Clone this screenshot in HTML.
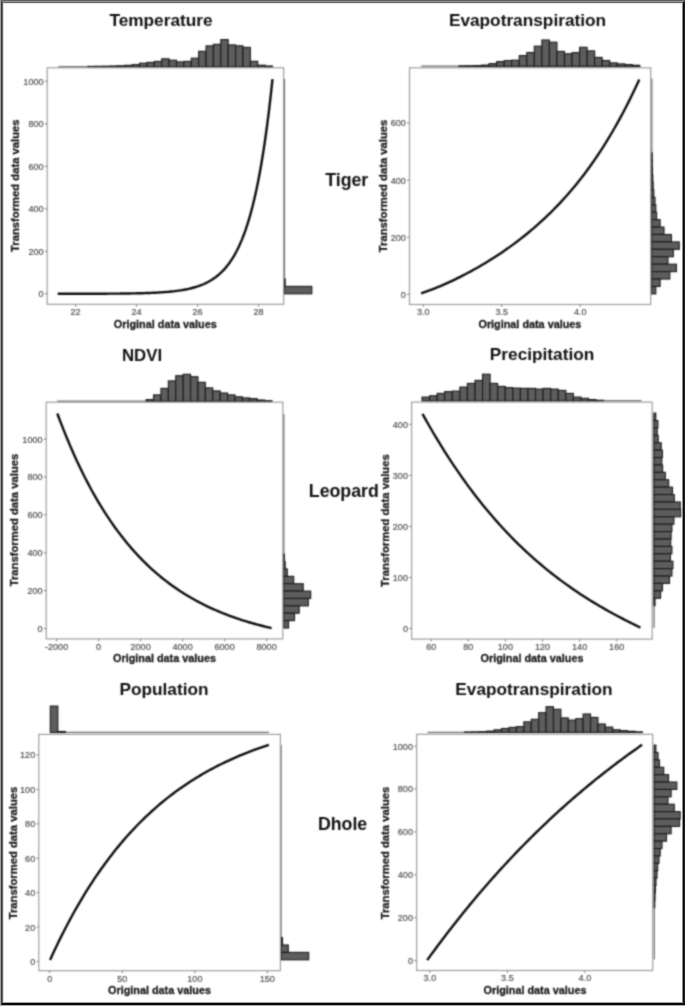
<!DOCTYPE html>
<html lang="en">
<head>
<meta charset="utf-8">
<title>Transformed data values</title>
<style>
html,body{margin:0;padding:0;background:#fff;}
body{width:685px;height:1006px;overflow:hidden;}
svg{display:block;font-family:"Liberation Sans", sans-serif;}
.bars rect{fill:#5d5d5d;stroke:#1c1c1c;stroke-width:1.1;}
.zl{fill:none;stroke:#707070;stroke-width:1.2;}
.panel{fill:#fff;stroke:#9e9e9e;stroke-width:1.2;}
.curve{fill:none;stroke:#0c0c0c;stroke-width:2.4;stroke-linecap:butt;stroke-linejoin:round;}
.tick{fill:none;stroke:#808080;stroke-width:1;}
.tl{font-size:9.1px;fill:#4a4a4a;stroke:#4a4a4a;stroke-width:0.15;}
.title{font-size:17.25px;font-weight:bold;fill:#101010;}
.sp{font-size:17.75px;}
.al{font-size:10.85px;font-weight:bold;fill:#141414;stroke:#141414;stroke-width:0.25;}
.yl{font-size:11.25px;}
</style>
</head>
<body>
<svg width="685" height="1006" viewBox="0 0 685 1006">
<defs><filter id="soft" x="0" y="0" width="100%" height="100%" filterUnits="objectBoundingBox" color-interpolation-filters="sRGB"><feConvolveMatrix order="5" kernelMatrix="0.00009 0.00198 0.00548 0.00198 0.00009 0.00198 0.04220 0.11707 0.04220 0.00198 0.00548 0.11707 0.32480 0.11707 0.00548 0.00198 0.04220 0.11707 0.04220 0.00198 0.00009 0.00198 0.00548 0.00198 0.00009" edgeMode="duplicate" preserveAlpha="true"/></filter></defs>
<g filter="url(#soft)">
<rect x="-20" y="-20" width="725" height="1046" fill="#ffffff"/>
<g class="bars">
<path class="zl" d="M58.3,66.7H272.5"/>
<rect x="87.84" y="66.4" width="7.39" height="0.4"/>
<rect x="95.23" y="66.3" width="7.39" height="0.5"/>
<rect x="102.62" y="66.2" width="7.39" height="0.6"/>
<rect x="110" y="66" width="7.39" height="0.8"/>
<rect x="117.39" y="65.8" width="7.39" height="1"/>
<rect x="124.78" y="65.3" width="7.39" height="1.5"/>
<rect x="132.16" y="64.6" width="7.39" height="2.2"/>
<rect x="139.55" y="63.2" width="7.39" height="3.6"/>
<rect x="146.93" y="62.4" width="7.39" height="4.4"/>
<rect x="154.32" y="61.4" width="7.39" height="5.4"/>
<rect x="161.71" y="58.8" width="7.39" height="8"/>
<rect x="169.09" y="60.2" width="7.39" height="6.6"/>
<rect x="176.48" y="61.9" width="7.39" height="4.9"/>
<rect x="183.87" y="61.4" width="7.39" height="5.4"/>
<rect x="191.25" y="58.2" width="7.39" height="8.6"/>
<rect x="198.64" y="51.3" width="7.39" height="15.5"/>
<rect x="206.02" y="45.9" width="7.39" height="20.9"/>
<rect x="213.41" y="44.3" width="7.39" height="22.5"/>
<rect x="220.8" y="39.6" width="7.39" height="27.2"/>
<rect x="228.18" y="44.9" width="7.39" height="21.9"/>
<rect x="235.57" y="45.8" width="7.39" height="21"/>
<rect x="242.96" y="47.4" width="7.39" height="19.4"/>
<rect x="250.34" y="61.3" width="7.39" height="5.5"/>
<rect x="257.73" y="65.2" width="7.39" height="1.6"/>
<rect x="265.11" y="66" width="7.39" height="0.8"/>
<path class="zl" d="M284.5,78.8V293.8"/>
<rect x="284.4" y="278.97" width="0.8" height="7.41"/>
<rect x="284.4" y="286.39" width="27.4" height="7.41"/>
</g>
<rect class="panel" x="47.2" y="67.8" width="236.4" height="236.5"/>
<path class="curve" d="M57.7,293.79 L59.51,293.79 L61.31,293.78 L63.12,293.78 L64.92,293.78 L66.73,293.78 L68.53,293.78 L70.34,293.78 L72.14,293.77 L73.95,293.77 L75.75,293.77 L77.56,293.77 L79.36,293.76 L81.17,293.76 L82.97,293.76 L84.78,293.75 L86.58,293.75 L88.39,293.75 L90.19,293.74 L92,293.74 L93.8,293.73 L95.61,293.73 L97.41,293.72 L99.22,293.71 L101.02,293.7 L102.83,293.7 L104.63,293.69 L106.44,293.68 L108.24,293.67 L110.05,293.66 L111.85,293.64 L113.66,293.63 L115.46,293.62 L117.27,293.6 L119.07,293.58 L120.88,293.57 L122.68,293.55 L124.49,293.53 L126.29,293.5 L128.1,293.48 L129.9,293.45 L131.71,293.42 L133.51,293.39 L135.32,293.35 L137.12,293.31 L138.93,293.27 L140.73,293.23 L142.54,293.18 L144.34,293.13 L146.15,293.07 L147.95,293.01 L149.76,292.94 L151.56,292.87 L153.37,292.79 L155.17,292.71 L156.98,292.61 L158.78,292.51 L160.59,292.41 L162.39,292.29 L164.2,292.16 L166,292.02 L167.81,291.87 L169.61,291.71 L171.42,291.53 L173.22,291.34 L175.03,291.13 L176.83,290.9 L178.64,290.66 L180.44,290.39 L182.25,290.1 L184.05,289.79 L185.86,289.45 L187.66,289.08 L189.47,288.68 L191.27,288.25 L193.08,287.78 L194.88,287.27 L196.69,286.72 L198.49,286.12 L200.3,285.47 L202.1,284.77 L203.91,284 L205.71,283.17 L207.52,282.27 L209.32,281.3 L211.13,280.24 L212.93,279.09 L214.74,277.85 L216.54,276.5 L218.35,275.04 L220.15,273.45 L221.96,271.73 L223.76,269.86 L225.57,267.83 L227.37,265.63 L229.18,263.25 L230.98,260.67 L232.79,257.86 L234.59,254.82 L236.4,251.52 L238.2,247.95 L240.01,244.07 L241.81,239.86 L243.62,235.29 L245.42,230.34 L247.23,224.97 L249.03,219.15 L250.84,212.83 L252.64,205.98 L254.45,198.55 L256.25,190.49 L258.06,181.75 L259.86,172.27 L261.67,161.98 L263.47,150.83 L265.28,138.73 L267.08,125.61 L268.89,111.38 L270.69,95.94 L272.5,79.2"/>
<text class="tl" text-anchor="end" transform="translate(43.6,297.25) scale(1,1.05)">0</text>
<text class="tl" text-anchor="end" transform="translate(43.6,254.75) scale(1,1.05)">200</text>
<text class="tl" text-anchor="end" transform="translate(43.6,212.25) scale(1,1.05)">400</text>
<text class="tl" text-anchor="end" transform="translate(43.6,169.75) scale(1,1.05)">600</text>
<text class="tl" text-anchor="end" transform="translate(43.6,127.25) scale(1,1.05)">800</text>
<text class="tl" text-anchor="end" transform="translate(43.6,84.75) scale(1,1.05)">1000</text>
<text class="tl" text-anchor="middle" transform="translate(75.6,315.2) scale(1,1.05)">22</text>
<text class="tl" text-anchor="middle" transform="translate(136.6,315.2) scale(1,1.05)">24</text>
<text class="tl" text-anchor="middle" transform="translate(197.6,315.2) scale(1,1.05)">26</text>
<text class="tl" text-anchor="middle" transform="translate(258.6,315.2) scale(1,1.05)">28</text>
<path class="tick" d="M44.8,293.8H47.2M44.8,251.3H47.2M44.8,208.8H47.2M44.8,166.3H47.2M44.8,123.8H47.2M44.8,81.3H47.2M75.6,304.3V306.7M136.6,304.3V306.7M197.6,304.3V306.7M258.6,304.3V306.7"/>
<text class="title" style="font-size:17.25px" text-anchor="middle" x="161" y="25.8">Temperature</text>
<text class="al" text-anchor="middle" transform="translate(165.3,328) scale(1,1.04)">Original data values</text>
<text class="al yl" text-anchor="middle" transform="translate(18.6,185.7) rotate(-90)">Transformed data values</text>
<g class="bars">
<path class="zl" d="M421.2,66.2H639.9"/>
<rect x="458.91" y="65.9" width="7.54" height="0.4"/>
<rect x="466.45" y="65.8" width="7.54" height="0.5"/>
<rect x="473.99" y="65.6" width="7.54" height="0.7"/>
<rect x="481.53" y="65.1" width="7.54" height="1.2"/>
<rect x="489.07" y="63.6" width="7.54" height="2.7"/>
<rect x="496.61" y="61.6" width="7.54" height="4.7"/>
<rect x="504.16" y="60.6" width="7.54" height="5.7"/>
<rect x="511.7" y="60.2" width="7.54" height="6.1"/>
<rect x="519.24" y="55.6" width="7.54" height="10.7"/>
<rect x="526.78" y="52.5" width="7.54" height="13.8"/>
<rect x="534.32" y="46.2" width="7.54" height="20.1"/>
<rect x="541.86" y="40" width="7.54" height="26.3"/>
<rect x="549.4" y="42.2" width="7.54" height="24.1"/>
<rect x="556.94" y="51.4" width="7.54" height="14.9"/>
<rect x="564.49" y="53.8" width="7.54" height="12.5"/>
<rect x="572.03" y="52.6" width="7.54" height="13.7"/>
<rect x="579.57" y="47.3" width="7.54" height="19"/>
<rect x="587.11" y="50.9" width="7.54" height="15.4"/>
<rect x="594.65" y="57.4" width="7.54" height="8.9"/>
<rect x="602.19" y="60.5" width="7.54" height="5.8"/>
<rect x="609.73" y="62.9" width="7.54" height="3.4"/>
<rect x="617.28" y="63.9" width="7.54" height="2.4"/>
<rect x="624.82" y="64.6" width="7.54" height="1.7"/>
<rect x="632.36" y="65.3" width="7.54" height="1"/>
<path class="zl" d="M651.9,78.5V293.9"/>
<rect x="651.8" y="152.78" width="0.4" height="7.43"/>
<rect x="651.8" y="160.2" width="0.5" height="7.43"/>
<rect x="651.8" y="167.63" width="0.7" height="7.43"/>
<rect x="651.8" y="175.06" width="1" height="7.43"/>
<rect x="651.8" y="182.49" width="1.4" height="7.43"/>
<rect x="651.8" y="189.91" width="2" height="7.43"/>
<rect x="651.8" y="197.34" width="3.2" height="7.43"/>
<rect x="651.8" y="204.77" width="4" height="7.43"/>
<rect x="651.8" y="212.2" width="4.8" height="7.43"/>
<rect x="651.8" y="219.62" width="8.3" height="7.43"/>
<rect x="651.8" y="227.05" width="12.2" height="7.43"/>
<rect x="651.8" y="234.48" width="19.6" height="7.43"/>
<rect x="651.8" y="241.91" width="27.5" height="7.43"/>
<rect x="651.8" y="249.33" width="21.5" height="7.43"/>
<rect x="651.8" y="256.76" width="16.2" height="7.43"/>
<rect x="651.8" y="264.19" width="24.6" height="7.43"/>
<rect x="651.8" y="271.62" width="18" height="7.43"/>
<rect x="651.8" y="279.04" width="8.3" height="7.43"/>
<rect x="651.8" y="286.47" width="4" height="7.43"/>
</g>
<rect class="panel" x="409.5" y="67.8" width="241.2" height="236.7"/>
<path class="curve" d="M421.1,293.43 L423.86,292.47 L426.62,291.48 L429.39,290.45 L432.15,289.39 L434.91,288.3 L437.67,287.17 L440.43,286.02 L443.2,284.83 L445.96,283.62 L448.72,282.37 L451.48,281.09 L454.24,279.79 L457.01,278.45 L459.77,277.09 L462.53,275.69 L465.29,274.27 L468.05,272.81 L470.82,271.33 L473.58,269.81 L476.34,268.27 L479.1,266.69 L481.86,265.08 L484.63,263.44 L487.39,261.77 L490.15,260.06 L492.91,258.33 L495.67,256.55 L498.44,254.74 L501.2,252.9 L503.96,251.02 L506.72,249.1 L509.48,247.14 L512.25,245.15 L515.01,243.11 L517.77,241.03 L520.53,238.91 L523.29,236.74 L526.06,234.53 L528.82,232.26 L531.58,229.95 L534.34,227.59 L537.11,225.18 L539.87,222.72 L542.63,220.19 L545.39,217.62 L548.15,214.98 L550.92,212.28 L553.68,209.52 L556.44,206.7 L559.2,203.8 L561.96,200.84 L564.73,197.81 L567.49,194.7 L570.25,191.52 L573.01,188.26 L575.77,184.93 L578.54,181.5 L581.3,178 L584.06,174.4 L586.82,170.71 L589.58,166.93 L592.35,163.06 L595.11,159.08 L597.87,155.01 L600.63,150.83 L603.39,146.54 L606.16,142.14 L608.92,137.63 L611.68,133 L614.44,128.25 L617.2,123.37 L619.97,118.37 L622.73,113.24 L625.49,107.98 L628.25,102.58 L631.01,97.03 L633.78,91.34 L636.54,85.51 L639.3,79.52"/>
<text class="tl" text-anchor="end" transform="translate(405.9,297.75) scale(1,1.05)">0</text>
<text class="tl" text-anchor="end" transform="translate(405.9,240.65) scale(1,1.05)">200</text>
<text class="tl" text-anchor="end" transform="translate(405.9,183.55) scale(1,1.05)">400</text>
<text class="tl" text-anchor="end" transform="translate(405.9,126.45) scale(1,1.05)">600</text>
<text class="tl" text-anchor="middle" transform="translate(423.2,315.4) scale(1,1.05)">3.0</text>
<text class="tl" text-anchor="middle" transform="translate(501.7,315.4) scale(1,1.05)">3.5</text>
<text class="tl" text-anchor="middle" transform="translate(580.2,315.4) scale(1,1.05)">4.0</text>
<path class="tick" d="M407.1,294.3H409.5M407.1,237.2H409.5M407.1,180.1H409.5M407.1,123H409.5M423.2,304.5V306.9M501.7,304.5V306.9M580.2,304.5V306.9"/>
<text class="title" style="font-size:17.25px" text-anchor="middle" x="527.5" y="25.8">Evapotranspiration</text>
<text class="al" text-anchor="middle" transform="translate(529.9,327.8) scale(1,1.04)">Original data values</text>
<text class="al yl" text-anchor="middle" transform="translate(387,185.9) rotate(-90)">Transformed data values</text>
<g class="bars">
<path class="zl" d="M57.3,401.1H272"/>
<rect x="146.14" y="399.6" width="7.4" height="1.6"/>
<rect x="153.54" y="394.9" width="7.4" height="6.3"/>
<rect x="160.95" y="388.4" width="7.4" height="12.8"/>
<rect x="168.35" y="380.9" width="7.4" height="20.3"/>
<rect x="175.76" y="375.7" width="7.4" height="25.5"/>
<rect x="183.16" y="374.3" width="7.4" height="26.9"/>
<rect x="190.56" y="376.7" width="7.4" height="24.5"/>
<rect x="197.97" y="382.3" width="7.4" height="18.9"/>
<rect x="205.37" y="387.9" width="7.4" height="13.3"/>
<rect x="212.77" y="390.9" width="7.4" height="10.3"/>
<rect x="220.18" y="393" width="7.4" height="8.2"/>
<rect x="227.58" y="394.9" width="7.4" height="6.3"/>
<rect x="234.98" y="396.8" width="7.4" height="4.4"/>
<rect x="242.39" y="397.9" width="7.4" height="3.3"/>
<rect x="249.79" y="398.6" width="7.4" height="2.6"/>
<rect x="257.19" y="400" width="7.4" height="1.2"/>
<rect x="264.6" y="400.7" width="7.4" height="0.5"/>
<path class="zl" d="M283.9,414V628"/>
<rect x="283.8" y="554.21" width="0.6" height="7.38"/>
<rect x="283.8" y="561.59" width="1.4" height="7.38"/>
<rect x="283.8" y="568.97" width="3.5" height="7.38"/>
<rect x="283.8" y="576.34" width="9.9" height="7.38"/>
<rect x="283.8" y="583.72" width="19.4" height="7.38"/>
<rect x="283.8" y="591.1" width="26.9" height="7.38"/>
<rect x="283.8" y="598.48" width="24.5" height="7.38"/>
<rect x="283.8" y="605.86" width="15.4" height="7.38"/>
<rect x="283.8" y="613.24" width="10.7" height="7.38"/>
<rect x="283.8" y="620.62" width="4.8" height="7.38"/>
</g>
<rect class="panel" x="46.2" y="402.2" width="236.6" height="236.7"/>
<path class="curve" d="M57.3,413.5 L59.46,419.28 L61.63,424.92 L63.79,430.42 L65.96,435.78 L68.12,441.02 L70.29,446.12 L72.45,451.1 L74.62,455.95 L76.78,460.68 L78.95,465.3 L81.11,469.81 L83.28,474.2 L85.44,478.48 L87.61,482.66 L89.77,486.74 L91.93,490.71 L94.1,494.59 L96.26,498.37 L98.43,502.06 L100.59,505.65 L102.76,509.16 L104.92,512.58 L107.09,515.92 L109.25,519.18 L111.42,522.35 L113.58,525.45 L115.75,528.47 L117.91,531.41 L120.07,534.29 L122.24,537.09 L124.4,539.82 L126.57,542.49 L128.73,545.09 L130.9,547.62 L133.06,550.09 L135.23,552.51 L137.39,554.86 L139.56,557.15 L141.72,559.39 L143.89,561.57 L146.05,563.7 L148.22,565.78 L150.38,567.8 L152.54,569.78 L154.71,571.71 L156.87,573.58 L159.04,575.42 L161.2,577.2 L163.37,578.95 L165.53,580.65 L167.7,582.31 L169.86,583.92 L172.03,585.5 L174.19,587.04 L176.36,588.54 L178.52,590 L180.68,591.43 L182.85,592.82 L185.01,594.18 L187.18,595.51 L189.34,596.8 L191.51,598.06 L193.67,599.29 L195.84,600.48 L198,601.65 L200.17,602.79 L202.33,603.91 L204.5,604.99 L206.66,606.05 L208.83,607.08 L210.99,608.09 L213.15,609.07 L215.32,610.02 L217.48,610.96 L219.65,611.87 L221.81,612.76 L223.98,613.62 L226.14,614.47 L228.31,615.29 L230.47,616.1 L232.64,616.88 L234.8,617.64 L236.97,618.39 L239.13,619.12 L241.29,619.83 L243.46,620.52 L245.62,621.19 L247.79,621.85 L249.95,622.49 L252.12,623.12 L254.28,623.73 L256.45,624.32 L258.61,624.91 L260.78,625.47 L262.94,626.02 L265.11,626.56 L267.27,627.09 L269.44,627.6 L271.6,628.1"/>
<text class="tl" text-anchor="end" transform="translate(42.6,632.05) scale(1,1.05)">0</text>
<text class="tl" text-anchor="end" transform="translate(42.6,594.15) scale(1,1.05)">200</text>
<text class="tl" text-anchor="end" transform="translate(42.6,556.25) scale(1,1.05)">400</text>
<text class="tl" text-anchor="end" transform="translate(42.6,518.35) scale(1,1.05)">600</text>
<text class="tl" text-anchor="end" transform="translate(42.6,480.45) scale(1,1.05)">800</text>
<text class="tl" text-anchor="end" transform="translate(42.6,442.55) scale(1,1.05)">1000</text>
<text class="tl" text-anchor="middle" transform="translate(56.6,649.8) scale(1,1.05)">-2000</text>
<text class="tl" text-anchor="middle" transform="translate(98.6,649.8) scale(1,1.05)">0</text>
<text class="tl" text-anchor="middle" transform="translate(140.6,649.8) scale(1,1.05)">2000</text>
<text class="tl" text-anchor="middle" transform="translate(182.6,649.8) scale(1,1.05)">4000</text>
<text class="tl" text-anchor="middle" transform="translate(224.6,649.8) scale(1,1.05)">6000</text>
<text class="tl" text-anchor="middle" transform="translate(266.6,649.8) scale(1,1.05)">8000</text>
<path class="tick" d="M43.8,628.6H46.2M43.8,590.7H46.2M43.8,552.8H46.2M43.8,514.9H46.2M43.8,477H46.2M43.8,439.1H46.2M56.6,638.9V641.3M98.6,638.9V641.3M140.6,638.9V641.3M182.6,638.9V641.3M224.6,638.9V641.3M266.6,638.9V641.3"/>
<text class="title" style="font-size:16.8px" text-anchor="middle" x="142" y="360.6">NDVI</text>
<text class="al" text-anchor="middle" transform="translate(164.5,662) scale(1,1.04)">Original data values</text>
<text class="al yl" text-anchor="middle" transform="translate(18.2,520) rotate(-90)">Transformed data values</text>
<g class="bars">
<path class="zl" d="M422,400.7H641.5"/>
<rect x="422" y="397.1" width="7.57" height="3.7"/>
<rect x="429.57" y="395.8" width="7.57" height="5"/>
<rect x="437.14" y="393.4" width="7.57" height="7.4"/>
<rect x="444.71" y="391.6" width="7.57" height="9.2"/>
<rect x="452.28" y="391.1" width="7.57" height="9.7"/>
<rect x="459.84" y="387.1" width="7.57" height="13.7"/>
<rect x="467.41" y="383.4" width="7.57" height="17.4"/>
<rect x="474.98" y="380.4" width="7.57" height="20.4"/>
<rect x="482.55" y="374.2" width="7.57" height="26.6"/>
<rect x="490.12" y="383.4" width="7.57" height="17.4"/>
<rect x="497.69" y="386.4" width="7.57" height="14.4"/>
<rect x="505.26" y="387.6" width="7.57" height="13.2"/>
<rect x="512.83" y="388.1" width="7.57" height="12.7"/>
<rect x="520.4" y="388.4" width="7.57" height="12.4"/>
<rect x="527.97" y="388.4" width="7.57" height="12.4"/>
<rect x="535.53" y="389.1" width="7.57" height="11.7"/>
<rect x="543.1" y="388.4" width="7.57" height="12.4"/>
<rect x="550.67" y="389.1" width="7.57" height="11.7"/>
<rect x="558.24" y="390.4" width="7.57" height="10.4"/>
<rect x="565.81" y="393.4" width="7.57" height="7.4"/>
<rect x="573.38" y="397.1" width="7.57" height="3.7"/>
<rect x="580.95" y="398.3" width="7.57" height="2.5"/>
<rect x="588.52" y="399.6" width="7.57" height="1.2"/>
<rect x="596.09" y="400.3" width="7.57" height="0.5"/>
<path class="zl" d="M654.1,413.1V627.9"/>
<rect x="654" y="413.1" width="1.8" height="7.41"/>
<rect x="654" y="420.51" width="3.9" height="7.41"/>
<rect x="654" y="427.91" width="3.2" height="7.41"/>
<rect x="654" y="435.32" width="4.2" height="7.41"/>
<rect x="654" y="442.73" width="7.2" height="7.41"/>
<rect x="654" y="450.13" width="8.4" height="7.41"/>
<rect x="654" y="457.54" width="7.8" height="7.41"/>
<rect x="654" y="464.95" width="8.6" height="7.41"/>
<rect x="654" y="472.36" width="11.3" height="7.41"/>
<rect x="654" y="479.76" width="14.7" height="7.41"/>
<rect x="654" y="487.17" width="18.5" height="7.41"/>
<rect x="654" y="494.58" width="20.3" height="7.41"/>
<rect x="654" y="501.98" width="26.3" height="7.41"/>
<rect x="654" y="509.39" width="26.8" height="7.41"/>
<rect x="654" y="516.8" width="19.9" height="7.41"/>
<rect x="654" y="524.2" width="17.9" height="7.41"/>
<rect x="654" y="531.61" width="17.1" height="7.41"/>
<rect x="654" y="539.02" width="16.7" height="7.41"/>
<rect x="654" y="546.42" width="17.9" height="7.41"/>
<rect x="654" y="553.83" width="16.4" height="7.41"/>
<rect x="654" y="561.24" width="18.9" height="7.41"/>
<rect x="654" y="568.64" width="17.9" height="7.41"/>
<rect x="654" y="576.05" width="15.5" height="7.41"/>
<rect x="654" y="583.46" width="8.5" height="7.41"/>
<rect x="654" y="590.87" width="6.6" height="7.41"/>
<rect x="654" y="598.27" width="1" height="7.41"/>
</g>
<rect class="panel" x="411.6" y="402.1" width="240.6" height="237"/>
<path class="curve" d="M422.5,413.86 L425.26,418.83 L428.02,423.72 L430.77,428.52 L433.53,433.24 L436.29,437.88 L439.05,442.43 L441.81,446.91 L444.57,451.31 L447.32,455.64 L450.08,459.89 L452.84,464.06 L455.6,468.16 L458.36,472.19 L461.12,476.15 L463.87,480.04 L466.63,483.86 L469.39,487.61 L472.15,491.3 L474.91,494.92 L477.66,498.47 L480.42,501.96 L483.18,505.39 L485.94,508.76 L488.7,512.07 L491.46,515.32 L494.21,518.51 L496.97,521.65 L499.73,524.72 L502.49,527.75 L505.25,530.71 L508.01,533.63 L510.76,536.49 L513.52,539.3 L516.28,542.06 L519.04,544.77 L521.8,547.43 L524.55,550.05 L527.31,552.62 L530.07,555.14 L532.83,557.61 L535.59,560.05 L538.35,562.44 L541.1,564.78 L543.86,567.09 L546.62,569.35 L549.38,571.58 L552.14,573.76 L554.89,575.91 L557.65,578.02 L560.41,580.09 L563.17,582.13 L565.93,584.13 L568.69,586.1 L571.44,588.03 L574.2,589.93 L576.96,591.8 L579.72,593.64 L582.48,595.45 L585.24,597.23 L587.99,598.97 L590.75,600.7 L593.51,602.39 L596.27,604.05 L599.03,605.69 L601.78,607.31 L604.54,608.89 L607.3,610.46 L610.06,612 L612.82,613.52 L615.58,615.01 L618.33,616.48 L621.09,617.93 L623.85,619.37 L626.61,620.78 L629.37,622.17 L632.13,623.54 L634.88,624.89 L637.64,626.23 L640.4,627.55"/>
<text class="tl" text-anchor="end" transform="translate(408,631.95) scale(1,1.05)">0</text>
<text class="tl" text-anchor="end" transform="translate(408,580.95) scale(1,1.05)">100</text>
<text class="tl" text-anchor="end" transform="translate(408,529.95) scale(1,1.05)">200</text>
<text class="tl" text-anchor="end" transform="translate(408,478.85) scale(1,1.05)">300</text>
<text class="tl" text-anchor="end" transform="translate(408,427.85) scale(1,1.05)">400</text>
<text class="tl" text-anchor="middle" transform="translate(431.2,650) scale(1,1.05)">60</text>
<text class="tl" text-anchor="middle" transform="translate(468.3,650) scale(1,1.05)">80</text>
<text class="tl" text-anchor="middle" transform="translate(505.4,650) scale(1,1.05)">100</text>
<text class="tl" text-anchor="middle" transform="translate(542.5,650) scale(1,1.05)">120</text>
<text class="tl" text-anchor="middle" transform="translate(579.6,650) scale(1,1.05)">140</text>
<text class="tl" text-anchor="middle" transform="translate(616.7,650) scale(1,1.05)">160</text>
<path class="tick" d="M409.2,628.5H411.6M409.2,577.5H411.6M409.2,526.5H411.6M409.2,475.4H411.6M409.2,424.4H411.6M431.2,639.1V641.5M468.3,639.1V641.5M505.4,639.1V641.5M542.5,639.1V641.5M579.6,639.1V641.5M616.7,639.1V641.5"/>
<text class="title" style="font-size:17.25px" text-anchor="middle" x="542.1" y="360.3">Precipitation</text>
<text class="al" text-anchor="middle" transform="translate(532,661.6) scale(1,1.04)">Original data values</text>
<text class="al yl" text-anchor="middle" transform="translate(389.1,520.6) rotate(-90)">Transformed data values</text>
<g class="bars">
<path class="zl" d="M50.3,732.4H269"/>
<rect x="50.3" y="706.1" width="7.54" height="26.4"/>
<rect x="57.84" y="731.5" width="7.54" height="1"/>
<path class="zl" d="M281.1,745V959.8"/>
<rect x="281" y="937.58" width="1.5" height="7.41"/>
<rect x="281" y="944.99" width="7.3" height="7.41"/>
<rect x="281" y="952.39" width="27.7" height="7.41"/>
</g>
<rect class="panel" x="38.8" y="734.4" width="241.6" height="236.3"/>
<path class="curve" d="M50.1,959.88 L52.31,955.05 L54.52,950.31 L56.73,945.66 L58.94,941.1 L61.15,936.63 L63.36,932.24 L65.57,927.94 L67.78,923.72 L69.99,919.58 L72.2,915.52 L74.41,911.53 L76.62,907.63 L78.83,903.8 L81.04,900.04 L83.25,896.35 L85.46,892.74 L87.67,889.19 L89.88,885.71 L92.09,882.3 L94.3,878.96 L96.51,875.68 L98.72,872.46 L100.93,869.3 L103.14,866.2 L105.35,863.17 L107.56,860.19 L109.77,857.26 L111.98,854.4 L114.19,851.59 L116.4,848.83 L118.61,846.12 L120.82,843.47 L123.03,840.87 L125.24,838.32 L127.45,835.82 L129.66,833.36 L131.87,830.95 L134.08,828.59 L136.29,826.27 L138.5,824 L140.71,821.77 L142.92,819.59 L145.13,817.44 L147.34,815.34 L149.55,813.28 L151.76,811.25 L153.97,809.27 L156.18,807.32 L158.39,805.42 L160.61,803.54 L162.82,801.71 L165.03,799.9 L167.24,798.14 L169.45,796.41 L171.66,794.71 L173.87,793.04 L176.08,791.4 L178.29,789.8 L180.5,788.23 L182.71,786.68 L184.92,785.17 L187.13,783.68 L189.34,782.23 L191.55,780.8 L193.76,779.4 L195.97,778.03 L198.18,776.68 L200.39,775.36 L202.6,774.06 L204.81,772.79 L207.02,771.54 L209.23,770.32 L211.44,769.12 L213.65,767.94 L215.86,766.79 L218.07,765.66 L220.28,764.54 L222.49,763.46 L224.7,762.39 L226.91,761.34 L229.12,760.31 L231.33,759.3 L233.54,758.32 L235.75,757.35 L237.96,756.39 L240.17,755.46 L242.38,754.55 L244.59,753.65 L246.8,752.77 L249.01,751.9 L251.22,751.06 L253.43,750.23 L255.64,749.41 L257.85,748.61 L260.06,747.83 L262.27,747.06 L264.48,746.31 L266.69,745.57 L268.9,744.84"/>
<text class="tl" text-anchor="end" transform="translate(35.2,965.05) scale(1,1.05)">0</text>
<text class="tl" text-anchor="end" transform="translate(35.2,930.6) scale(1,1.05)">20</text>
<text class="tl" text-anchor="end" transform="translate(35.2,896.15) scale(1,1.05)">40</text>
<text class="tl" text-anchor="end" transform="translate(35.2,861.7) scale(1,1.05)">60</text>
<text class="tl" text-anchor="end" transform="translate(35.2,827.25) scale(1,1.05)">80</text>
<text class="tl" text-anchor="end" transform="translate(35.2,792.8) scale(1,1.05)">100</text>
<text class="tl" text-anchor="end" transform="translate(35.2,758.35) scale(1,1.05)">120</text>
<text class="tl" text-anchor="middle" transform="translate(49.7,981.6) scale(1,1.05)">0</text>
<text class="tl" text-anchor="middle" transform="translate(122.3,981.6) scale(1,1.05)">50</text>
<text class="tl" text-anchor="middle" transform="translate(194.9,981.6) scale(1,1.05)">100</text>
<text class="tl" text-anchor="middle" transform="translate(267.3,981.6) scale(1,1.05)">150</text>
<path class="tick" d="M36.4,961.6H38.8M36.4,927.15H38.8M36.4,892.7H38.8M36.4,858.25H38.8M36.4,823.8H38.8M36.4,789.35H38.8M36.4,754.9H38.8M49.7,970.7V973.1M122.3,970.7V973.1M194.9,970.7V973.1M267.3,970.7V973.1"/>
<text class="title" style="font-size:17.25px" text-anchor="middle" x="164" y="695">Population</text>
<text class="al" text-anchor="middle" transform="translate(159.5,993.8) scale(1,1.04)">Original data values</text>
<text class="al yl" text-anchor="middle" transform="translate(16.5,853) rotate(-90)">Transformed data values</text>
<g class="bars">
<path class="zl" d="M427.5,732.3H642.4"/>
<rect x="464.55" y="732" width="7.41" height="0.4"/>
<rect x="471.96" y="731.9" width="7.41" height="0.5"/>
<rect x="479.37" y="731.7" width="7.41" height="0.7"/>
<rect x="486.78" y="731.1" width="7.41" height="1.3"/>
<rect x="494.19" y="729.8" width="7.41" height="2.6"/>
<rect x="501.6" y="728.5" width="7.41" height="3.9"/>
<rect x="509.01" y="727.4" width="7.41" height="5"/>
<rect x="516.42" y="726.6" width="7.41" height="5.8"/>
<rect x="523.83" y="721.9" width="7.41" height="10.5"/>
<rect x="531.24" y="719.3" width="7.41" height="13.1"/>
<rect x="538.66" y="712.7" width="7.41" height="19.7"/>
<rect x="546.07" y="706.7" width="7.41" height="25.7"/>
<rect x="553.48" y="709.3" width="7.41" height="23.1"/>
<rect x="560.89" y="717.9" width="7.41" height="14.5"/>
<rect x="568.3" y="720.1" width="7.41" height="12.3"/>
<rect x="575.71" y="718.7" width="7.41" height="13.7"/>
<rect x="583.12" y="714" width="7.41" height="18.4"/>
<rect x="590.53" y="717.4" width="7.41" height="15"/>
<rect x="597.94" y="724" width="7.41" height="8.4"/>
<rect x="605.35" y="727.1" width="7.41" height="5.3"/>
<rect x="612.76" y="729.8" width="7.41" height="2.6"/>
<rect x="620.17" y="730.6" width="7.41" height="1.8"/>
<rect x="627.58" y="731.3" width="7.41" height="1.1"/>
<rect x="634.99" y="731.9" width="7.41" height="0.5"/>
<path class="zl" d="M654.3,745.1V959.4"/>
<rect x="654.2" y="745.1" width="1.7" height="7.39"/>
<rect x="654.2" y="752.49" width="3.8" height="7.39"/>
<rect x="654.2" y="759.88" width="5.3" height="7.39"/>
<rect x="654.2" y="767.27" width="9.5" height="7.39"/>
<rect x="654.2" y="774.66" width="14.4" height="7.39"/>
<rect x="654.2" y="782.05" width="22.6" height="7.39"/>
<rect x="654.2" y="789.44" width="16.9" height="7.39"/>
<rect x="654.2" y="796.83" width="13.8" height="7.39"/>
<rect x="654.2" y="804.22" width="20.1" height="7.39"/>
<rect x="654.2" y="811.61" width="26" height="7.39"/>
<rect x="654.2" y="819" width="25.4" height="7.39"/>
<rect x="654.2" y="826.39" width="16.9" height="7.39"/>
<rect x="654.2" y="833.78" width="12.3" height="7.39"/>
<rect x="654.2" y="841.17" width="7.8" height="7.39"/>
<rect x="654.2" y="848.56" width="6" height="7.39"/>
<rect x="654.2" y="855.94" width="4.8" height="7.39"/>
<rect x="654.2" y="863.33" width="3.5" height="7.39"/>
<rect x="654.2" y="870.72" width="2.8" height="7.39"/>
<rect x="654.2" y="878.11" width="1.8" height="7.39"/>
<rect x="654.2" y="885.5" width="1.2" height="7.39"/>
<rect x="654.2" y="892.89" width="0.8" height="7.39"/>
<rect x="654.2" y="900.28" width="0.5" height="7.39"/>
</g>
<rect class="panel" x="416.6" y="734.3" width="236.1" height="236.2"/>
<path class="curve" d="M427.2,960.14 L429.37,957.13 L431.54,954.15 L433.71,951.19 L435.88,948.25 L438.05,945.33 L440.22,942.42 L442.39,939.54 L444.56,936.68 L446.73,933.84 L448.9,931.02 L451.07,928.22 L453.24,925.44 L455.41,922.68 L457.58,919.94 L459.75,917.21 L461.92,914.51 L464.08,911.82 L466.25,909.16 L468.42,906.51 L470.59,903.88 L472.76,901.27 L474.93,898.67 L477.1,896.1 L479.27,893.54 L481.44,891 L483.61,888.48 L485.78,885.97 L487.95,883.49 L490.12,881.02 L492.29,878.57 L494.46,876.13 L496.63,873.71 L498.8,871.31 L500.97,868.93 L503.14,866.56 L505.31,864.21 L507.48,861.87 L509.65,859.55 L511.82,857.25 L513.99,854.97 L516.16,852.69 L518.33,850.44 L520.5,848.2 L522.67,845.98 L524.84,843.77 L527.01,841.58 L529.18,839.4 L531.35,837.24 L533.52,835.09 L535.68,832.96 L537.85,830.84 L540.02,828.74 L542.19,826.65 L544.36,824.58 L546.53,822.52 L548.7,820.48 L550.87,818.45 L553.04,816.43 L555.21,814.43 L557.38,812.44 L559.55,810.47 L561.72,808.51 L563.89,806.56 L566.06,804.63 L568.23,802.71 L570.4,800.8 L572.57,798.91 L574.74,797.03 L576.91,795.16 L579.08,793.31 L581.25,791.47 L583.42,789.64 L585.59,787.83 L587.76,786.02 L589.93,784.23 L592.1,782.46 L594.27,780.69 L596.44,778.94 L598.61,777.2 L600.78,775.47 L602.95,773.75 L605.12,772.05 L607.28,770.36 L609.45,768.68 L611.62,767.01 L613.79,765.35 L615.96,763.7 L618.13,762.07 L620.3,760.45 L622.47,758.84 L624.64,757.24 L626.81,755.65 L628.98,754.07 L631.15,752.5 L633.32,750.95 L635.49,749.4 L637.66,747.87 L639.83,746.34 L642,744.83"/>
<text class="tl" text-anchor="end" transform="translate(413,964.05) scale(1,1.05)">0</text>
<text class="tl" text-anchor="end" transform="translate(413,921.15) scale(1,1.05)">200</text>
<text class="tl" text-anchor="end" transform="translate(413,878.25) scale(1,1.05)">400</text>
<text class="tl" text-anchor="end" transform="translate(413,835.35) scale(1,1.05)">600</text>
<text class="tl" text-anchor="end" transform="translate(413,792.45) scale(1,1.05)">800</text>
<text class="tl" text-anchor="end" transform="translate(413,749.55) scale(1,1.05)">1000</text>
<text class="tl" text-anchor="middle" transform="translate(429.9,981.4) scale(1,1.05)">3.0</text>
<text class="tl" text-anchor="middle" transform="translate(507.4,981.4) scale(1,1.05)">3.5</text>
<text class="tl" text-anchor="middle" transform="translate(584.9,981.4) scale(1,1.05)">4.0</text>
<path class="tick" d="M414.2,960.6H416.6M414.2,917.7H416.6M414.2,874.8H416.6M414.2,831.9H416.6M414.2,789H416.6M414.2,746.1H416.6M429.9,970.5V972.9M507.4,970.5V972.9M584.9,970.5V972.9"/>
<text class="title" style="font-size:17.25px" text-anchor="middle" x="533.9" y="694.8">Evapotranspiration</text>
<text class="al" text-anchor="middle" transform="translate(535,993.6) scale(1,1.04)">Original data values</text>
<text class="al yl" text-anchor="middle" transform="translate(389,853) rotate(-90)">Transformed data values</text>
<text class="title sp" x="325.2" y="186.3">Tiger</text>
<text class="title sp" x="308.8" y="496.7">Leopard</text>
<text class="title sp" x="317.9" y="830.4">Dhole</text>
</g>
<g shape-rendering="crispEdges">
<rect x="0" y="0" width="685" height="1" fill="#606060"/>
<rect x="0" y="1" width="685" height="1" fill="#909090"/>
<rect x="0" y="2" width="685" height="1" fill="#6a6a6a"/>
<rect x="0" y="3" width="685" height="1" fill="#e6e6e6"/>
<rect x="0" y="0" width="1" height="1006" fill="#a0a0a0"/>
<rect x="1" y="1" width="1" height="1005" fill="#3a3a3a"/>
<rect x="2" y="2" width="1" height="1004" fill="#686868"/>
<rect x="3" y="3" width="1" height="1000" fill="#dcdcdc"/>
<rect x="682" y="3" width="1" height="1000" fill="#8a8a8a"/>
<rect x="683" y="2" width="1" height="1004" fill="#0a0a0a"/>
<rect x="684" y="1" width="1" height="1005" fill="#1c1c1c"/>
<rect x="3" y="1002" width="680" height="1" fill="#a0a0a0"/>
<rect x="2" y="1003" width="683" height="2" fill="#0a0a0a"/>
<rect x="0" y="1005" width="685" height="1" fill="#a8a8a8"/>
</g>
</svg>
</body>
</html>
